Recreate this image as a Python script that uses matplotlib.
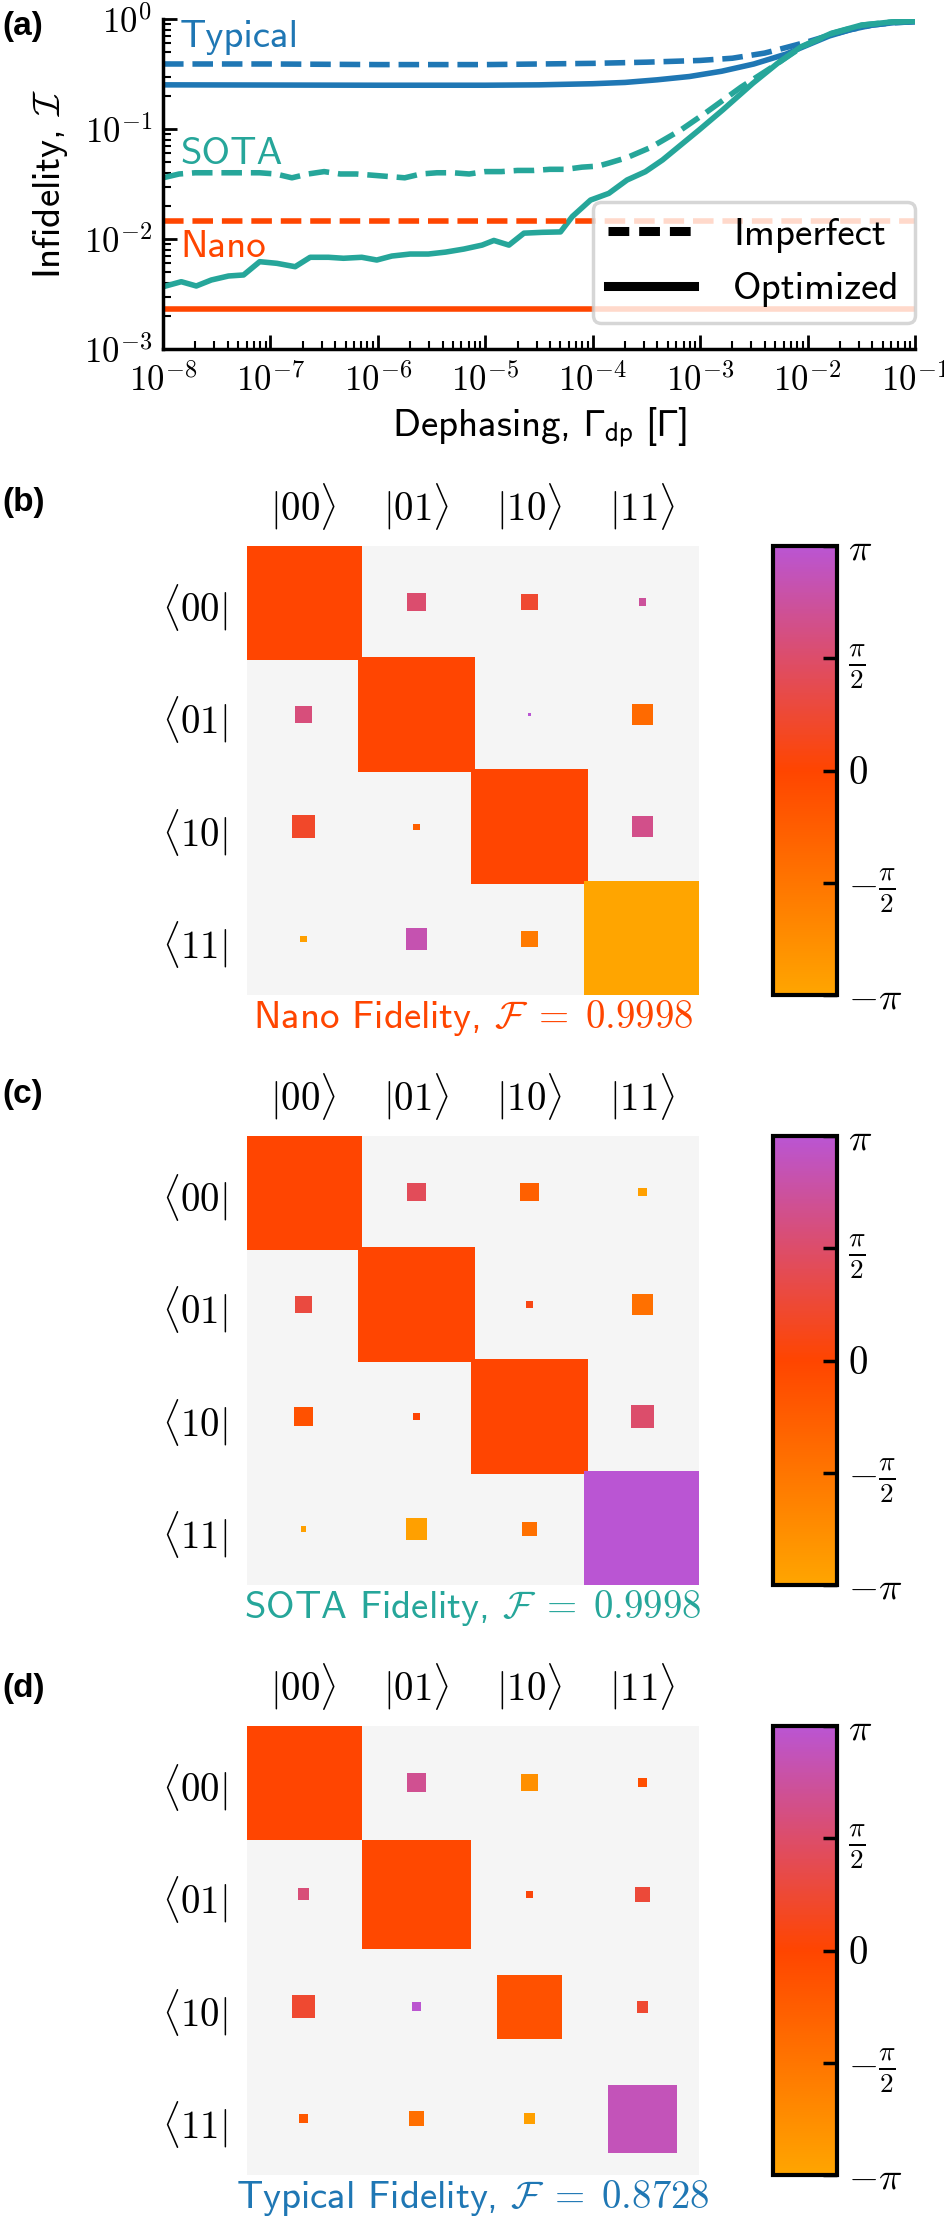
import matplotlib
matplotlib.use("Agg")
import matplotlib.pyplot as plt
import numpy as np

from matplotlib.colors import LinearSegmentedColormap, Normalize
from matplotlib.cm import ScalarMappable
from matplotlib.lines import Line2D
from matplotlib.patches import Rectangle
from matplotlib.ticker import LogLocator, NullFormatter

plt.rcParams.update({
    "font.family": "cmss10",
    "mathtext.fontset": "cm",
    "axes.formatter.use_mathtext": True,
})

# ---- panel (a): infidelity vs dephasing (x given as log10 of Gamma_dp) ----
typical_opt_logx = [-8, -7, -6, -5, -4.5, -4.0, -3.7, -3.4, -3.1, -2.8, -2.5, -2.2, -2.0, -1.8, -1.6, -1.4, -1.2, -1.0]
typical_opt = [0.252, 0.251, 0.250, 0.250, 0.252, 0.258, 0.265, 0.28, 0.30, 0.335, 0.39, 0.48, 0.58, 0.70, 0.80, 0.88, 0.925, 0.945]

typical_imp_logx = [-8, -7, -6, -5, -4, -3.5, -3.0, -2.7, -2.4, -2.2, -2.0, -1.8, -1.6, -1.4, -1.2, -1.0]
typical_imp = [0.39, 0.39, 0.385, 0.385, 0.395, 0.405, 0.42, 0.44, 0.49, 0.55, 0.62, 0.71, 0.80, 0.88, 0.925, 0.945]

sota_opt_logx = [-8.0, -7.83, -7.69, -7.55, -7.39, -7.25, -7.10, -6.94, -6.77, -6.63, -6.46, -6.32, -6.15, -6.01,
                 -5.87, -5.70, -5.53, -5.37, -5.20, -5.03, -4.92, -4.78, -4.64, -4.47, -4.30, -4.19, -4.02, -3.85,
                 -3.68, -3.51, -3.35, -3.18, -3.01, -2.79, -2.51, -2.28, -2.06, -1.78, -1.50, -1.22, -1.0]
sota_opt = [0.00368, 0.00409, 0.00374, 0.00424, 0.00461, 0.00471, 0.00622, 0.00601, 0.0056, 0.00682, 0.00682,
            0.00668, 0.00682, 0.00644, 0.0070, 0.0073, 0.0073, 0.0076, 0.0081, 0.0088, 0.0097, 0.0088, 0.0113,
            0.0115, 0.0116, 0.016, 0.0226, 0.026, 0.0344, 0.0409, 0.0523, 0.0716, 0.098, 0.149, 0.26, 0.395,
            0.56, 0.74, 0.88, 0.94, 0.955]

sota_imp_logx = [-8, -7.85, -7.7, -7.55, -7.4, -7.25, -7.1, -6.95, -6.8, -6.65, -6.5, -6.35, -6.2, -6.05, -5.9,
                 -5.75, -5.6, -5.45, -5.3, -5.15, -5.0, -4.85, -4.7, -4.55, -4.4, -4.25, -4.1, -3.95, -3.85, -3.68,
                 -3.46, -3.18, -2.95, -2.62, -2.34, -2.05, -1.77, -1.49, -1.21, -1.0]
sota_imp = [0.036, 0.039, 0.040, 0.040, 0.040, 0.040, 0.040, 0.039, 0.036, 0.039, 0.041, 0.039, 0.039, 0.038,
            0.037, 0.036, 0.039, 0.040, 0.040, 0.039, 0.041, 0.041, 0.042, 0.042, 0.043, 0.043, 0.045, 0.046,
            0.049, 0.055, 0.068, 0.098, 0.14, 0.24, 0.36, 0.56, 0.74, 0.88, 0.94, 0.955]

nano_logx = [-8, -1]
nano_opt = [0.0023, 0.0023]
nano_imp = [0.0146, 0.0146]

x_decades = [-8, -7, -6, -5, -4, -3, -2, -1]
y_decades = [-3, -2, -1, 0]

# ---- panels (b)-(d): process matrices, square side (fraction of a cell) and phase (units of pi) ----
kets = [r"$|\mathsf{00}\rangle$", r"$|\mathsf{01}\rangle$", r"$|\mathsf{10}\rangle$", r"$|\mathsf{11}\rangle$"]
bras = [r"$\langle\mathsf{00}|$", r"$\langle\mathsf{01}|$", r"$\langle\mathsf{10}|$", r"$\langle\mathsf{11}|$"]

nano_size = [[1.03, 0.16, 0.145, 0.07],
             [0.145, 1.03, 0.03, 0.19],
             [0.20, 0.055, 1.03, 0.19],
             [0.06, 0.19, 0.145, 1.03]]
nano_phase = [[0, 0.52, 0.23, 0.73],
              [0.58, 0, 1.0, -0.38],
              [0.2, -0.28, 0, 0.65],
              [-0.95, 0.83, -0.55, -1.0]]

sota_size = [[1.03, 0.165, 0.165, 0.075],
             [0.145, 1.03, 0.065, 0.19],
             [0.175, 0.065, 1.03, 0.21],
             [0.053, 0.19, 0.13, 1.03]]
sota_phase = [[0, 0.42, -0.28, -0.95],
              [0.3, 0, 0.1, -0.45],
              [-0.12, 0.02, 0, 0.5],
              [-0.95, -0.95, -0.45, 1.0]]

typical_size = [[1.03, 0.17, 0.15, 0.08],
                [0.106, 0.97, 0.064, 0.133],
                [0.21, 0.085, 0.57, 0.106],
                [0.08, 0.133, 0.10, 0.61]]
typical_phase = [[0, 0.68, -0.78, -0.1],
                 [0.57, -0.03, 0.05, 0.27],
                 [0.23, 0.98, -0.12, 0.23],
                 [-0.2, -0.43, -0.95, 0.87]]

fidelities = [0.9998, 0.9998, 0.8728]

blue = "#1f77b4"
teal = "#26a69a"
nano_col = "orangered"

cmap = LinearSegmentedColormap.from_list("phase", ["orange", "orangered", "mediumorchid"])
norm = Normalize(-np.pi, np.pi)

W, H = 945, 2218


def px_rect(x0, y0, x1, y1):
    # pixel box (top-left origin) -> figure fraction rect
    return [x0 / W, 1 - y1 / H, (x1 - x0) / W, (y1 - y0) / H]


def hinton(ax, sizes, phases):
    ax.set_facecolor("whitesmoke")
    for i in range(4):
        for j in range(4):
            s = sizes[i][j]
            ax.add_patch(Rectangle((j - s / 2, i - s / 2), s, s, edgecolor="none",
                                   facecolor=cmap(norm(phases[i][j] * np.pi))))
    ax.set_xlim(-0.5, 3.5)
    ax.set_ylim(3.5, -0.5)
    for sp in ax.spines.values():
        sp.set_visible(False)
    ax.xaxis.tick_top()
    ax.set_xticks(range(4))
    ax.set_yticks(range(4))
    ax.set_xticklabels(kets)
    ax.set_yticklabels(bras)
    ax.tick_params(length=0, labelsize=28)
    ax.tick_params(axis="x", pad=10)
    ax.tick_params(axis="y", pad=14)


def pow_label(e):
    return r"$\mathsf{10}^{\mathsf{%d}}$" % e


fig = plt.figure(figsize=(W / 100, H / 100), dpi=100)

# ---------------- (a) ----------------
ax = fig.add_axes(px_rect(163, 19, 915, 349))
ax.plot(10.0 ** np.array(typical_imp_logx), typical_imp, color=blue, lw=4, ls="--")
ax.plot(10.0 ** np.array(typical_opt_logx), typical_opt, color=blue, lw=4)
ax.plot(10.0 ** np.array(sota_imp_logx), sota_imp, color=teal, lw=4, ls="--")
ax.plot(10.0 ** np.array(sota_opt_logx), sota_opt, color=teal, lw=4)
ax.plot(10.0 ** np.array(nano_logx), nano_imp, color=nano_col, lw=4, ls="--")
ax.plot(10.0 ** np.array(nano_logx), nano_opt, color=nano_col, lw=4)

ax.set_xscale("log")
ax.set_yscale("log")
ax.set_xlim(1e-8, 1e-1)
ax.set_ylim(1e-3, 1e0)
ax.set_xticks([10.0 ** e for e in x_decades], [pow_label(e) for e in x_decades])
ax.set_yticks([10.0 ** e for e in y_decades], [pow_label(e) for e in y_decades])
ax.xaxis.set_minor_locator(LogLocator(base=10, subs=np.arange(2, 10), numticks=20))
ax.yaxis.set_minor_locator(LogLocator(base=10, subs=np.arange(2, 10), numticks=20))
ax.xaxis.set_minor_formatter(NullFormatter())
ax.yaxis.set_minor_formatter(NullFormatter())
ax.spines["top"].set_visible(False)
ax.spines["right"].set_visible(False)
ax.spines["left"].set_linewidth(2.5)
ax.spines["bottom"].set_linewidth(2.5)
ax.tick_params(which="major", direction="in", length=10, width=2, labelsize=25)
ax.tick_params(axis="x", which="major", pad=10)
ax.tick_params(axis="y", which="major", pad=8)
ax.tick_params(which="minor", direction="in", length=5.5, width=1.5)

ax.text(1.44e-8, 0.556, "Typical", color=blue, fontsize=28)
ax.text(1.44e-8, 0.048, "SOTA", color=teal, fontsize=28)
ax.text(1.44e-8, 0.00686, "Nano", color=nano_col, fontsize=28)

ax.set_ylabel(r"Infidelity, $\mathcal{I}$", fontsize=28, labelpad=10)
ax.set_xlabel(r"Dephasing, $\Gamma_{\mathrm{dp}}$ [$\Gamma$]", fontsize=28, labelpad=6,
              math_fontfamily="stixsans")

handles = [Line2D([], [], color="k", lw=6.5, dashes=(2.3, 1.1)),
           Line2D([], [], color="k", lw=6.5)]
leg = ax.legend(handles, ["Imperfect", "Optimized"], loc="lower right", bbox_to_anchor=(1.0, 0.079),
                borderaxespad=0, fontsize=28, handlelength=2.2, handletextpad=1.0,
                framealpha=0.8, edgecolor="0.8", fancybox=True)
leg.get_frame().set_linewidth(2.5)

fig.text(0.002, 1 - 27 / H, "(a)", fontsize=24, fontweight="bold", family="Liberation Sans", va="center")

# ---------------- (b)-(d) ----------------
panels = [("(b)", "Nano", nano_size, nano_phase, nano_col, 546, 502),
          ("(c)", "SOTA", sota_size, sota_phase, teal, 1136, 1094),
          ("(d)", "Typical", typical_size, typical_phase, blue, 1726, 1688)]

ticks = [-np.pi, -np.pi / 2, 0, np.pi / 2, np.pi]
tick_labels = [r"$-\pi$", r"$-\frac{\pi}{\mathsf{2}}$", r"$\mathsf{0}$", r"$\frac{\pi}{\mathsf{2}}$", r"$\pi$"]

for k, (tag, name, sizes, phases, col, top, tag_y) in enumerate(panels):
    hx = fig.add_axes(px_rect(247, top, 699, top + 449))
    hinton(hx, sizes, phases)
    hx.text(0.5, -0.052, name + r" Fidelity, $\mathcal{F}\;=\;\mathsf{%.4f}$" % fidelities[k],
            transform=hx.transAxes, ha="center", va="center", color=col, fontsize=28)

    cax = fig.add_axes(px_rect(773, top, 837, top + 449))
    cb = fig.colorbar(ScalarMappable(norm=norm, cmap=cmap), cax=cax, ticks=ticks)
    cb.set_ticklabels(tick_labels)
    cb.outline.set_linewidth(3)
    cax.tick_params(direction="in", length=10, width=2.5, labelsize=28, pad=8)

    fig.text(0.002, 1 - tag_y / H, tag, fontsize=24, fontweight="bold", family="Liberation Sans", va="center")

fig.savefig("out.png", dpi=100)
